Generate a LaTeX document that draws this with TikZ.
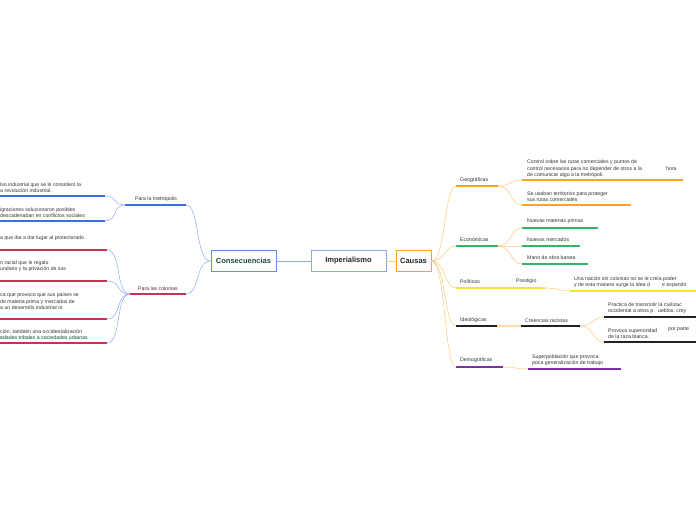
\documentclass[tikz,border=0pt]{standalone}
\usepackage{fontspec}
\setmainfont{Liberation Sans}
\definecolor{cblue}{HTML}{3B6FE0}
\definecolor{cred}{HTML}{C8334F}
\definecolor{corange}{HTML}{F5A623}
\definecolor{cgreen}{HTML}{3BB06A}
\definecolor{cyellow}{HTML}{F7E03C}
\definecolor{cpurple}{HTML}{7B2FA8}
\definecolor{cdark}{HTML}{222222}
\definecolor{lblue}{HTML}{8FA8F0}
\definecolor{lorange}{HTML}{F9C87A}
\definecolor{tgreen}{HTML}{1E4D3A}
\begin{document}
\begin{tikzpicture}[x=1pt,y=-1pt,
  txt/.style={font=\fontsize{5.2}{6.6}\selectfont,text=black!80,inner sep=0pt,anchor=south west,align=left},
  ul/.style={line width=1.3pt},
  cb/.style={lblue,line width=0.5pt},
  co/.style={lorange,line width=0.5pt},
  main/.style={draw,line width=0.7pt,font=\bfseries\fontsize{7.5}{9}\selectfont,inner sep=0pt,minimum height=21pt}]
\useasboundingbox (0,0) rectangle (696,520);
\clip (0,0) rectangle (696,520);
% main boxes
\node[main,draw=cblue!80,text=tgreen,minimum width=65pt] (cons) at (243.5,261) {Consecuencias};
\node[main,draw=cblue!60,text=black!85,minimum width=75pt,fill=white] (imp) at (348.5,261) {Imperialismo};
\node[main,draw=corange,text=black!85,minimum width=35pt] (caus) at (413.5,261) {Causas};
\draw[cb] (cons.east) -- (imp.west);
\draw[co] (imp.east) -- (caus.west);
% ---------- left ----------
\coordinate (mA) at (186,205); \coordinate (mB) at (125,205);
\draw[ul,cblue] (mA) -- (mB);
\node[txt,anchor=south] (ml) at (156,202) {Para la metrópolis};
\coordinate (cA) at (186,294); \coordinate (cB) at (130,294);
\draw[ul,cred] (cA) -- (cB);
\node[txt,anchor=south] (cl) at (158,291) {Para las colonias};
\draw[cb] (cons.west) .. controls (195,261) and (200,205) .. (mA);
\draw[cb] (cons.west) .. controls (195,261) and (200,294) .. (cA);
% metropolis leaves
\foreach \n/\y in {m1/196,m2/221}{
  \coordinate (\n e) at (105,\y); \coordinate (\n s) at (0,\y);
  \draw[ul,cblue] (\n e) -- (\n s);
  \draw[cb] (mB) .. controls (112,205) and (118,\y) .. (\n e);}
\node[txt] (t1) at (0,193) {lso industrial que se le considero la\\a revolución industrial.};
\node[txt] (t2) at (0,218) {igraciones solucionaron posibles\\descadenaban en conflictos sociales};
% colonias leaves
\foreach \n/\y in {c1/250,c2/281,c3/319,c4/343}{
  \coordinate (\n e) at (107,\y); \coordinate (\n s) at (0,\y);
  \draw[ul,cred] (\n e) -- (\n s);
  \draw[cb] (cB) .. controls (115,294) and (122,\y) .. (\n e);}
\node[txt] (t3) at (0,241) {a que iba a dar lugar al protectorado};
\node[txt] (t4) at (0,272) {n racial que le regalo\\undario y la privación de sus};
\node[txt] (t5) at (0,310) {ca que provoco que sus paises se\\ de materia prima y mercados de\\a un desarrollo industrial ni};
\node[txt] (t6) at (0,340) {ción, también una occidentalización\\edades tribales a sociedades urbanas};
% ---------- right ----------
\foreach \n/\y/\xe/\c in {g/186/498/corange,e/246/498/cgreen,p/288/488/cyellow,i/326/497/cdark,d/367/503/cpurple}{
  \coordinate (\n s) at (456,\y); \coordinate (\n e) at (\xe,\y);
  \draw[ul,\c] (\n s) -- (\n e);
  \draw[co] (caus.east) .. controls (446,261) and (444,\y) .. (\n s);}
\node[txt] (lg) at (460,183) {Geográficas};
\node[txt] (le) at (460,242) {Económicas};
\node[txt] (lp) at (460,284) {Políticas};
\node[txt] (li) at (460,323) {Ideológicas};
\node[txt] (ld) at (460,363) {Demográficas};
% geograficas leaves
\coordinate (g1s) at (522,180); \coordinate (g1e) at (683,180);
\coordinate (g2s) at (522,205); \coordinate (g2e) at (631,205);
\draw[ul,corange] (g1s) -- (g1e); \draw[ul,corange] (g2s) -- (g2e);
\draw[co] (ge) .. controls (512,186) and (510,180) .. (g1s);
\draw[co] (ge) .. controls (512,186) and (510,205) .. (g2s);
\node[txt] (tg1) at (527,178) {Control sobre las rutas comerciales y puntos de\\control necesarios para no depender de otros a la\\de comunicar algo a la metrópoli.};
\node[txt] (tg1b) at (666,171) {hora};
\node[txt] (tg2) at (527,202) {Se usaban territorios para proteger\\sus rutas comerciales};
% economicas leaves
\foreach \n/\y/\xe in {e1/228/598,e2/246/580,e3/264/588}{
  \coordinate (\n s) at (522,\y); \coordinate (\n e) at (\xe,\y);
  \draw[ul,cgreen] (\n s) -- (\n e);
  \draw[co] (ee) .. controls (512,246) and (510,\y) .. (\n s);}
\node[txt] (te1) at (527,224) {Nuevas materias primas};
\node[txt] (te2) at (527,242) {Nuevos mercados};
\node[txt] (te3) at (527,260) {Mano de obra barata};
% politicas
\coordinate (p1s) at (488,288); \coordinate (p1e) at (545,288);
\draw[co,line width=1.3pt,draw=cyellow!30] (pe) -- (p1s);
\draw[ul,cyellow] (p1s) -- (p1e);
\node[txt] (tp) at (516,284) {Prestigio};
\coordinate (p2s) at (570,291); \coordinate (p2e) at (696,291);
\draw[ul,cyellow] (p2s) -- (p2e);
\draw[co] (p1e) .. controls (558,288) and (558,291) .. (p2s);
\node[txt] (tp2) at (574,288) {Una nación sin colonias no se le creía poder\\y de esta manera surge la idea d};
\node[txt] (tp2b) at (662,288) {e expandir};
% ideologicas
\coordinate (i1s) at (521,326); \coordinate (i1e) at (580,326);
\draw[co,line width=1.3pt,draw=lorange!60] (ie) -- (i1s);
\draw[ul,cdark] (i1s) -- (i1e);
\node[txt] (ti) at (525,323) {Creencias racistas};
\foreach \n/\y in {i2/317,i3/342}{
  \coordinate (\n s) at (604,\y); \coordinate (\n e) at (696,\y);
  \draw[ul,cdark] (\n s) -- (\n e);
  \draw[co] (i1e) .. controls (594,326) and (592,\y) .. (\n s);}
\node[txt] (ti2) at (608,314) {Practica de transmitir la civilizac\\occidental a otros p};
\node[txt] (ti2b) at (658,314) {ueblos, crey};
\node[txt] (ti3) at (608,339) {Provoca superioridad\\de la raza blanca.};
\node[txt] (ti3b) at (668,332) {por parte};
% demograficas
\coordinate (d1s) at (528,369); \coordinate (d1e) at (621,369);
\draw[ul,cpurple] (d1s) -- (d1e);
\draw[co] (de) .. controls (516,367) and (516,369) .. (d1s);
\node[txt] (td) at (532,366) {Superpoblación que provoca\\poca generalización de trabajo};
\end{tikzpicture}
\end{document}
